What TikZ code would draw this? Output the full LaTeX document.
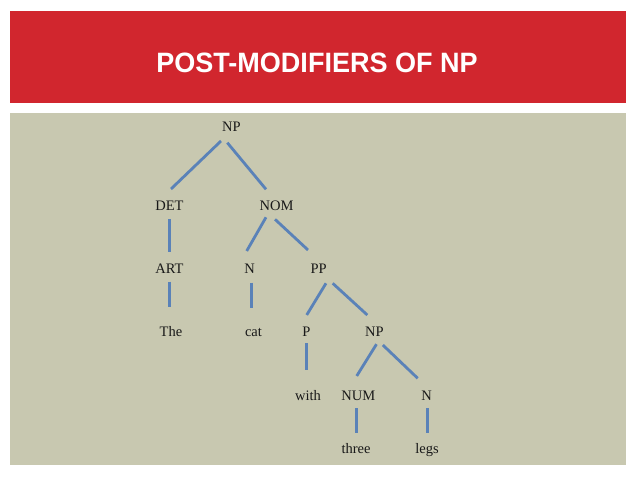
\documentclass[tikz,border=0pt]{standalone}
\usepackage{fontspec}
\usepackage{graphicx}
\setmainfont{Liberation Serif}
\newfontfamily\titlefont{Liberation Sans}
\definecolor{hdrred}{RGB}{209,38,46}
\definecolor{panel}{RGB}{200,200,176}
\definecolor{branch}{RGB}{90,130,184}
\definecolor{ink}{RGB}{25,25,25}
\newcommand{\tedge}[4]{\draw[branchline] ([shift={(#2)}]#1.base) -- ([shift={(#4)}]#3.base);}
\begin{document}
\begin{tikzpicture}[x=1pt,y=-1pt,
  lbl/.style={anchor=base,inner sep=0pt,text=ink,font=\fontsize{14.5}{14.5}\selectfont},
  branchline/.style={draw=branch,line width=2.8pt}]
\useasboundingbox (0,0) rectangle (638,478);
\fill[white] (0,0) rectangle (638,478);
\fill[hdrred] (10,11) rectangle (626,103);
\fill[panel] (10,113) rectangle (626,465);
\node[anchor=base,inner sep=0pt,text=white,font=\titlefont\bfseries\fontsize{28}{28}\selectfont] (title) at (317,73) {\scalebox{0.965}[1]{POST-MODIFIERS OF NP}};
% tree nodes
\node[lbl] (np1) at (231.5,131.5) {NP};
\node[lbl] (det) at (169.5,210.7) {DET};
\node[lbl] (nom) at (276.5,210.7) {NOM};
\node[lbl] (art) at (169.5,273.3) {ART};
\node[lbl] (n1) at (249.7,273.3) {N};
\node[lbl] (pp) at (318.7,273.3) {PP};
\node[lbl] (the) at (171,336.7) {The};
\node[lbl] (cat) at (253.5,336.7) {cat};
\node[lbl] (p) at (306.3,336.7) {P};
\node[lbl] (np2) at (374.5,336.7) {NP};
\node[lbl] (with) at (308,401) {with};
\node[lbl] (num) at (358.3,401) {NUM};
\node[lbl] (n2) at (426.7,401) {N};
\node[lbl] (three) at (356,453.5) {three};
\node[lbl] (legs) at (427,453.5) {legs};
% branches
\tedge{np1}{-10.5,9.5}{det}{1.5,-21.7}
\tedge{np1}{-4.2,11.2}{nom}{-10.5,-21.4}
\tedge{det}{0,8.6}{art}{0,-21}
\tedge{art}{0,8.4}{the}{-1.5,-29.4}
\tedge{nom}{-10.5,6.6}{n1}{-3,-22.3}
\tedge{nom}{-1.5,8.6}{pp}{-10.7,-23.3}
\tedge{n1}{1.8,9.4}{cat}{-2,-28.4}
\tedge{pp}{7.3,10}{p}{0.4,-21.7}
\tedge{pp}{14,10}{np2}{-7.2,-21.7}
\tedge{p}{0.2,6.8}{with}{-1.5,-31}
\tedge{np2}{2,7.5}{num}{-1.6,-25}
\tedge{np2}{8.3,8.3}{n2}{-9,-22.7}
\tedge{num}{-1.8,7.3}{three}{0.5,-20.8}
\tedge{n2}{0.8,7.3}{legs}{0.5,-20.8}
\end{tikzpicture}
\end{document}
